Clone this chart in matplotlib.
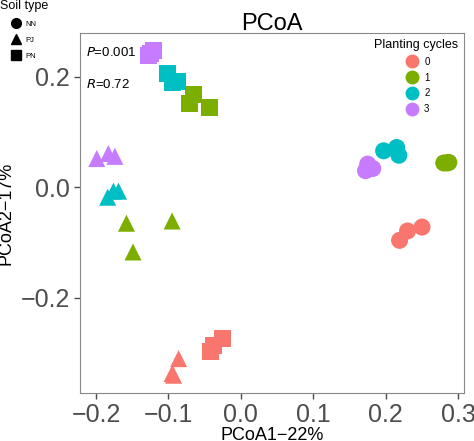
import matplotlib
matplotlib.use('Agg')
import matplotlib.pyplot as plt
from matplotlib.lines import Line2D
import numpy as np

plt.rcParams['font.family'] = ['Liberation Sans', 'DejaVu Sans']

cycle_colors = ['#F8766D', '#7CAE00', '#00BFC4', '#C77CFF']
cycle_labels = ['0', '1', '2', '3']
soil_types = ['NN', 'PJ', 'PN']
soil_markers = {'NN': 'o', 'PJ': '^', 'PN': 's'}

# point coordinates per soil type, ordered by planting cycle (3 per cycle)
nn_x = [0.219, 0.230, 0.250, 0.280, 0.285, 0.287, 0.197, 0.215, 0.218, 0.172, 0.175, 0.182]
nn_y = [-0.096, -0.079, -0.072, 0.044, 0.044, 0.045, 0.066, 0.072, 0.058, 0.030, 0.042, 0.034]
pj_x = [-0.086, -0.095, -0.093, -0.158, -0.095, -0.149, -0.184, -0.176, -0.169, -0.199, -0.183, -0.174]
pj_y = [-0.310, -0.337, -0.340, -0.065, -0.061, -0.117, -0.018, -0.007, -0.007, 0.052, 0.061, 0.056]
pn_x = [-0.042, -0.038, -0.025, -0.071, -0.066, -0.044, -0.102, -0.095, -0.087, -0.128, -0.121, -0.125]
pn_y = [-0.297, -0.286, -0.273, 0.152, 0.168, 0.145, 0.205, 0.190, 0.192, 0.238, 0.247, 0.242]
cycle_of_point = [0, 0, 0, 1, 1, 1, 2, 2, 2, 3, 3, 3]

data = {'NN': (nn_x, nn_y), 'PJ': (pj_x, pj_y), 'PN': (pn_x, pn_y)}

fig = plt.figure(figsize=(4.74, 4.41), dpi=100)
ax = fig.add_axes([0.169, 0.109, 0.81, 0.816])

for soil in soil_types:
    xs, ys = data[soil]
    cols = [cycle_colors[c] for c in cycle_of_point]
    ax.scatter(xs, ys, c=cols, marker=soil_markers[soil], s=150, linewidths=0, zorder=3)

ax.set_xlim(-0.222, 0.308)
ax.set_ylim(-0.372, 0.279)
ax.set_xticks([-0.2, -0.1, 0.0, 0.1, 0.2, 0.3])
ax.set_xticklabels(['\u22120.2', '\u22120.1', '0.0', '0.1', '0.2', '0.3'])
ax.set_yticks([-0.2, 0.0, 0.2])
ax.set_yticklabels(['\u22120.2', '0.0', '0.2'])
ax.tick_params(labelsize=18, colors='#4d4d4d', length=4, width=1)
for sp in ax.spines.values():
    sp.set_color('#888888')
ax.set_xlabel('PCoA1\u221222%', fontsize=13, labelpad=0)
ax.set_ylabel('PCoA2\u221217%', fontsize=13, labelpad=4)
fig.text(0.573, 0.945, 'PCoA', fontsize=17, ha='center', va='center')

ax.text(0.015, 0.965, r'$P$=0.001', transform=ax.transAxes, fontsize=9.5, va='top')
ax.text(0.015, 0.875, r'$R$=0.72', transform=ax.transAxes, fontsize=9.5, va='top')

handles = [Line2D([], [], marker='o', ls='', color=c, markersize=9) for c in cycle_colors]
leg = ax.legend(handles, cycle_labels, title='Planting cycles', loc='upper right',
                frameon=False, fontsize=7, title_fontsize=9, handletextpad=0.2,
                labelspacing=0.6, borderaxespad=0.2)

handles2 = [Line2D([], [], marker=soil_markers[s], ls='', color='black', markersize=7) for s in soil_types]
fig.legend(handles2, soil_types, title='Soil type', loc='upper left', bbox_to_anchor=(-0.015, 1.015),
           frameon=False, fontsize=5.5, title_fontsize=9, handletextpad=0.6, labelspacing=1.1,
           handlelength=1.2)

fig.savefig('out.png', dpi=100)
